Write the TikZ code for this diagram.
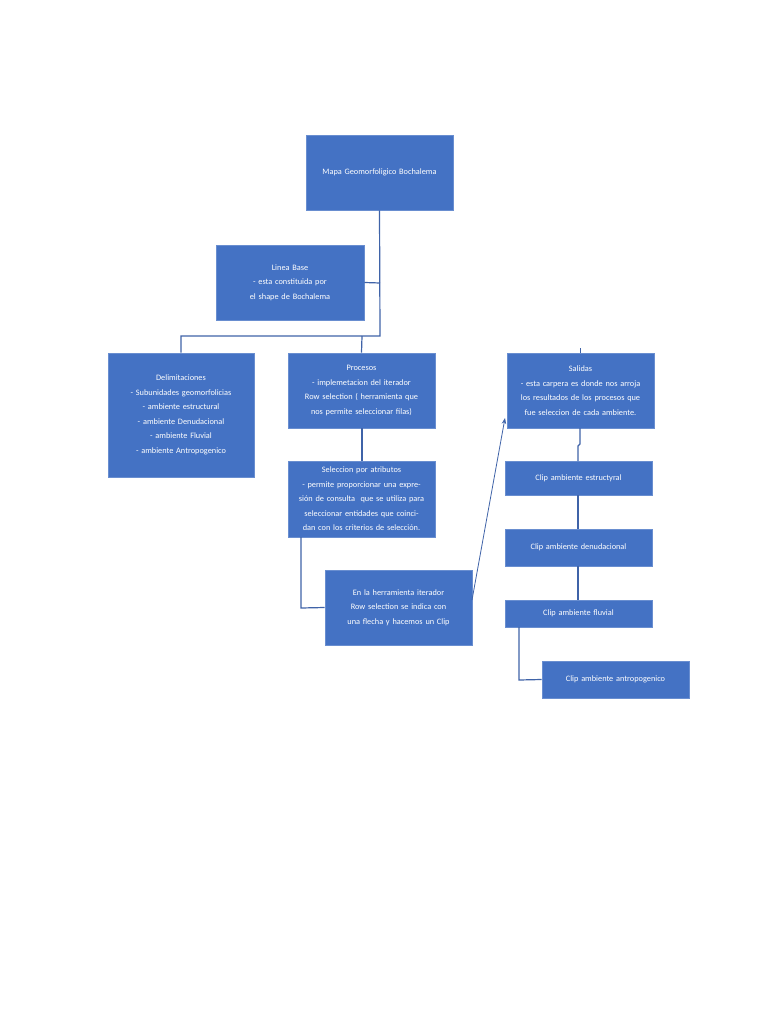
\documentclass[tikz,border=0pt]{standalone}
\usepackage{fontspec}
\setmainfont{Carlito}
\usetikzlibrary{arrows.meta}
\definecolor{bx}{HTML}{4472C4}
\definecolor{ln}{HTML}{3F63A8}
\begin{document}
\begin{tikzpicture}[x=1pt,y=-1pt,
 box/.style={fill=bx,draw=bx!80!white,line width=0.8pt,text=white,align=center,font=\fontsize{8.3}{14.5}\selectfont,inner sep=1pt},
 con/.style={draw=ln,line width=1.2pt}]
\useasboundingbox[fill=white] (0,0) rectangle (768,1024);
\newcommand\bxat[6]{\node[box,minimum width=#4-#2,minimum height=#5-#3,text width=#4-#2-2] (#1) at ({(#2+#4)/2},{(#3+#5)/2}) {#6};}
\bxat{mapa}{306}{135}{453}{210}{Mapa Geomorfoligico Bochalema}
\bxat{linea}{216}{245}{364}{320}{Linea Base\\- esta constituida por el shape de Bochalema}
\bxat{delim}{108}{353}{254}{477}{Delimitaciones\\- Subunidades geomorfolicias\\- ambiente estructural\\- ambiente Denudacional\\- ambiente Fluvial\\- ambiente Antropogenico}
\bxat{proc}{288}{353}{435}{428}{Procesos\\- implemetacion del iterador Row selection ( herramienta que nos permite seleccionar filas)}
\bxat{sel}{288}{461}{435}{537}{Seleccion por atributos\\- permite proporcionar una expresión de consulta \ que se utiliza para seleccionar entidades que coincidan con los criterios de selección.}
\bxat{enla}{325}{570}{472}{645}{En la herramienta iterador Row selection se indica con una flecha y hacemos un Clip}
\bxat{sal}{507}{353}{654}{428}{Salidas\\- esta carpera es donde nos arroja los resultados de los procesos que fue seleccion de cada ambiente.}
\bxat{c1}{505}{461}{652}{495}{Clip ambiente estructyral}
\bxat{c2}{505}{529}{652}{566}{Clip ambiente denudacional}
\bxat{c3}{505}{600}{652}{627}{Clip ambiente fluvial}
\bxat{c4}{542}{661}{689}{698}{Clip ambiente antropogenico}
\coordinate (j) at (380,336);
\draw[con] (mapa.south) -- (j) -| (delim.north);
\draw[con] (linea.east) -- (380,283);
\draw[con] (362,336) -- (proc.north);
\draw[con] (proc.south -| 362,0) -- (sel.north -| 362,0);
\draw[con] (301,537) -- (301,608) -- (enla.west);
\draw[ln,line width=0.8pt,-{Stealth[length=6pt]}] (472,600) -- (505,418);
\draw[ln,line width=1pt] (580,348) -- (sal.north -| 580,0);
\draw[con] (580,428) -- (580,444) -- (578,446) -- (578,461);
\draw[con] (c1.south -| 578,0) -- (c2.north -| 578,0);
\draw[con] (c2.south -| 578,0) -- (c3.north -| 578,0);
\draw[con] (519,627) -- (519,680) -- (c4.west);
\end{tikzpicture}
\end{document}
